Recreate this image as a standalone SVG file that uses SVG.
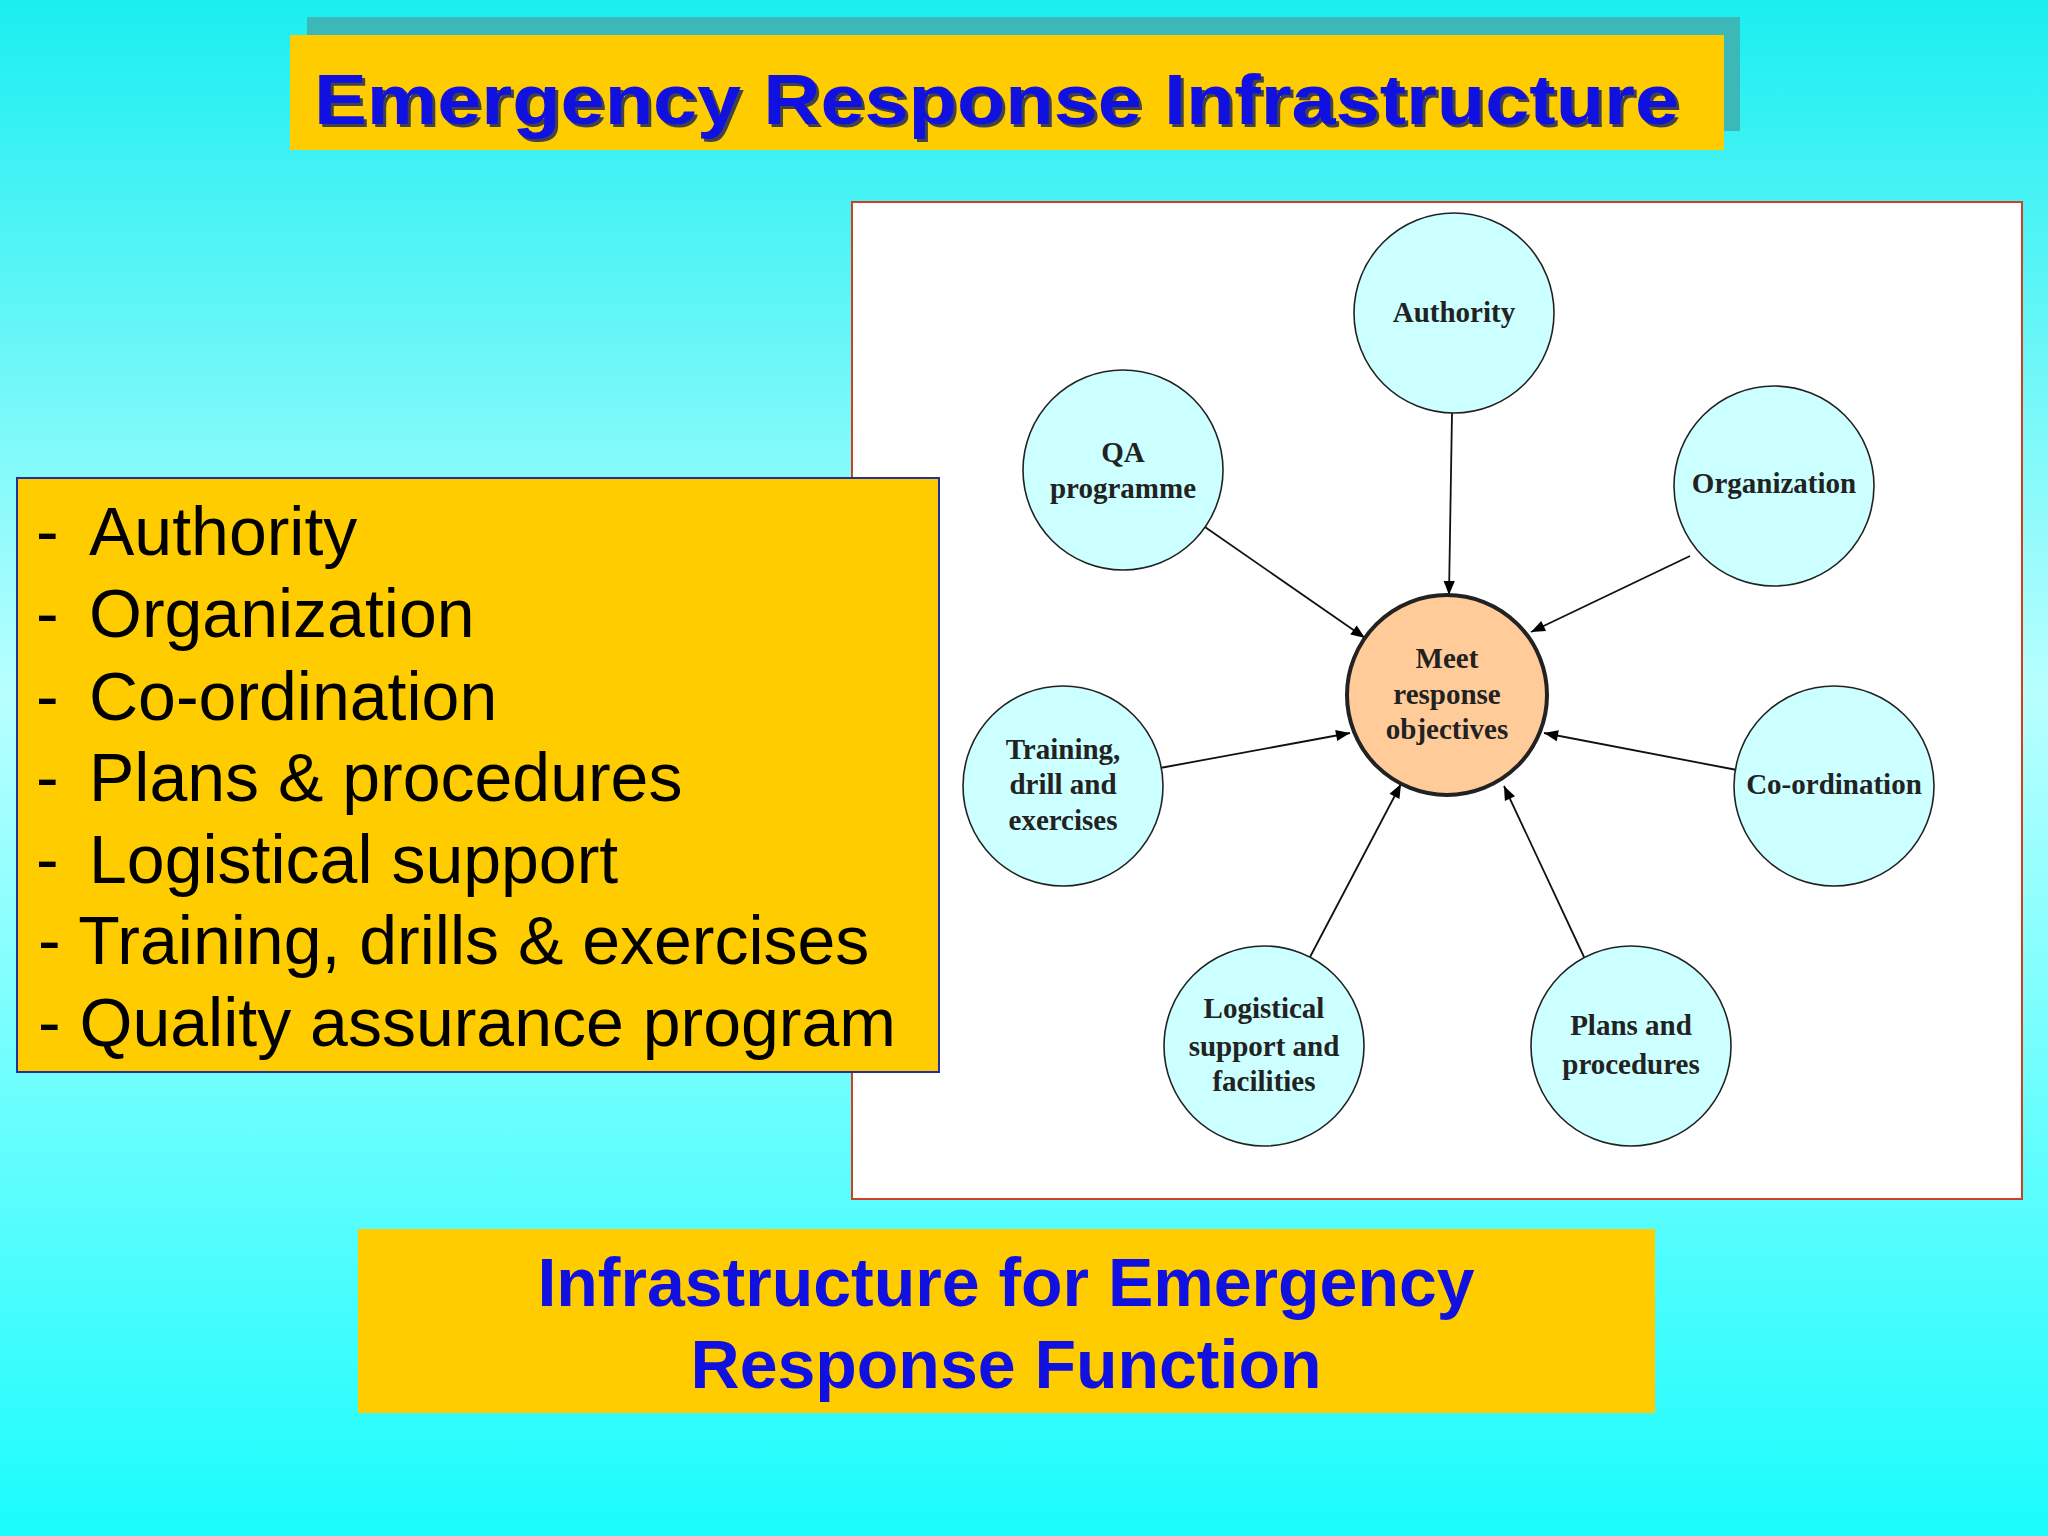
<svg xmlns="http://www.w3.org/2000/svg" width="2048" height="1536" viewBox="0 0 2048 1536">
<defs>
<linearGradient id="bg" x1="0" y1="0" x2="0" y2="1">
<stop offset="0" stop-color="#1aeef0"/>
<stop offset="0.45" stop-color="#b8ffff"/>
<stop offset="1" stop-color="#1afcfc"/>
</linearGradient>
<marker id="ah" viewBox="0 0 10 10" refX="10" refY="5" markerWidth="16" markerHeight="14" orient="auto" markerUnits="userSpaceOnUse">
<path d="M0,1 L10,5 L0,9 z" fill="#000"/>
</marker>
<style>
.box{fill:#ffcc00}
.node circle{fill:#ccffff;stroke:#222;stroke-width:1.6}
.node text{font-family:"Liberation Serif",serif;font-size:29px;font-weight:bold;fill:#222;text-anchor:middle}
.conn line{stroke:#111;stroke-width:1.8;marker-end:url(#ah)}
.list{font-family:"Liberation Sans",Arial,sans-serif;font-size:68px;fill:#000}
.blue{font-family:"Liberation Sans",Arial,sans-serif;font-weight:bold;fill:#1010e0;text-anchor:middle}
</style>
</defs>
<rect width="2048" height="1536" fill="url(#bg)"/>
<g id="title">
<rect x="307" y="17" width="1433" height="114" fill="#3cb8b8"/>
<rect class="box" x="290" y="35" width="1434" height="115"/>
<text x="317" y="127" font-family="Liberation Sans,Arial,sans-serif" font-weight="bold" font-size="70" fill="#444" textLength="1365" lengthAdjust="spacingAndGlyphs">Emergency Response Infrastructure</text>
<text x="314" y="124" font-family="Liberation Sans,Arial,sans-serif" font-weight="bold" font-size="70" fill="#1010e0" textLength="1365" lengthAdjust="spacingAndGlyphs">Emergency Response Infrastructure</text>
</g>
<g id="panel"><rect x="852" y="202" width="1170" height="997" fill="#fff" stroke="#d04020" stroke-width="2"/></g>
<g id="list">
<rect class="box" x="17" y="478" width="922" height="594" stroke="#2030a0" stroke-width="2"/>
<text class="list" x="36" y="555">-</text><text class="list" x="89" y="555">Authority</text>
<text class="list" x="36" y="637">-</text><text class="list" x="89" y="637">Organization</text>
<text class="list" x="36" y="720">-</text><text class="list" x="89" y="720">Co-ordination</text>
<text class="list" x="36" y="801">-</text><text class="list" x="89" y="801">Plans &amp; procedures</text>
<text class="list" x="36" y="883">-</text><text class="list" x="89" y="883">Logistical support</text>
<text class="list" x="38" y="964">- Training, drills &amp; exercises</text>
<text class="list" x="38" y="1046">- Quality assurance program</text>
</g>
<g id="caption">
<rect class="box" x="358" y="1229" width="1297" height="184"/>
<text class="blue" x="1006" y="1306" font-size="68">Infrastructure for Emergency</text>
<text class="blue" x="1006" y="1388" font-size="68">Response Function</text>
</g>
<g class="conn" id="connectors">
<line x1="1452" y1="413" x2="1449" y2="595"/>
<line x1="1205" y1="527" x2="1365" y2="638"/>
<line x1="1690" y1="556" x2="1531" y2="632"/>
<line x1="1160" y1="768" x2="1350" y2="733"/>
<line x1="1737" y1="770" x2="1544" y2="733"/>
<line x1="1310" y1="957" x2="1401" y2="784"/>
<line x1="1584" y1="957" x2="1504" y2="786"/>
</g>
<g class="node" id="n-center"><circle cx="1447" cy="695" r="100" style="fill:#ffcc99;stroke-width:4"/><text x="1447" y="668">Meet</text><text x="1447" y="704">response</text><text x="1447" y="739">objectives</text></g>
<g class="node" id="n-authority"><circle cx="1454" cy="313" r="100"/><text x="1454" y="322">Authority</text></g>
<g class="node" id="n-qa"><circle cx="1123" cy="470" r="100"/><text x="1123" y="462">QA</text><text x="1123" y="498">programme</text></g>
<g class="node" id="n-org"><circle cx="1774" cy="486" r="100"/><text x="1774" y="493">Organization</text></g>
<g class="node" id="n-training"><circle cx="1063" cy="786" r="100"/><text x="1063" y="759">Training,</text><text x="1063" y="794">drill  and</text><text x="1063" y="830">exercises</text></g>
<g class="node" id="n-coord"><circle cx="1834" cy="786" r="100"/><text x="1834" y="794">Co-ordination</text></g>
<g class="node" id="n-log"><circle cx="1264" cy="1046" r="100"/><text x="1264" y="1018">Logistical</text><text x="1264" y="1056">support and</text><text x="1264" y="1091">facilities</text></g>
<g class="node" id="n-plans"><circle cx="1631" cy="1046" r="100"/><text x="1631" y="1035">Plans and</text><text x="1631" y="1074">procedures</text></g>
</svg>
